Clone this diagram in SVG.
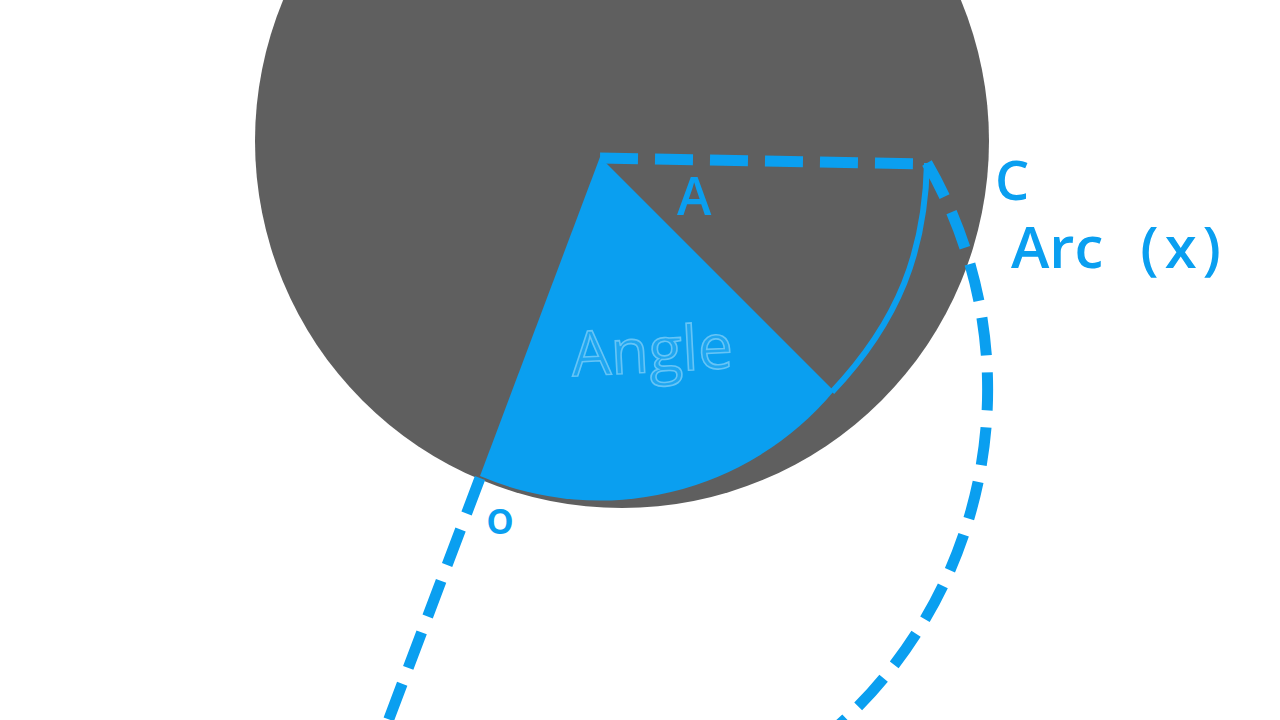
<svg xmlns="http://www.w3.org/2000/svg" width="1280" height="720" viewBox="0 0 1280 720">
<style>
.lbl{font-family:"Open Sans","Noto Sans",sans-serif;fill:#0a9ff0;font-weight:600;}
.dash{fill:none;stroke:#0a9ff0;stroke-width:11;stroke-dasharray:38 17;}
</style>
<rect width="1280" height="720" fill="#ffffff"/>
<g id="disc"><circle cx="622" cy="141" r="367" fill="#5f5f5f"/></g>
<g id="sector">
<path d="M600,157 L480,476 A305,305 0 0 0 834,391 Z" fill="#0a9ff0"/>
<text x="652" y="372" text-anchor="middle" font-family="Open Sans, sans-serif" font-size="62" fill="#22a8f2" stroke="#70c9f7" stroke-width="1.6" opacity="0.9" transform="rotate(-3 652 350)">Angle</text>
</g>
<g id="connectors">
<line class="dash" x1="600" y1="158" x2="927" y2="164"/>
<path d="M832,392 C900,320 925,250 927,163" fill="none" stroke="#0a9ff0" stroke-width="6"/>
<path class="dash" d="M927,163 A453,453 0 0 1 840,724"/>
<line class="dash" x1="480" y1="478" x2="387" y2="724"/>
</g>
<g id="labels">
<text class="lbl" x="995" y="200" font-size="54">C</text>
<text class="lbl" x="677" y="215" font-size="52">A</text>
<text class="lbl" x="1011" y="268" font-size="58">Arc <tspan dx="22" letter-spacing="6">(x)</tspan></text>
<text class="lbl" x="486" y="534" font-size="46">o</text>
</g>
</svg>
